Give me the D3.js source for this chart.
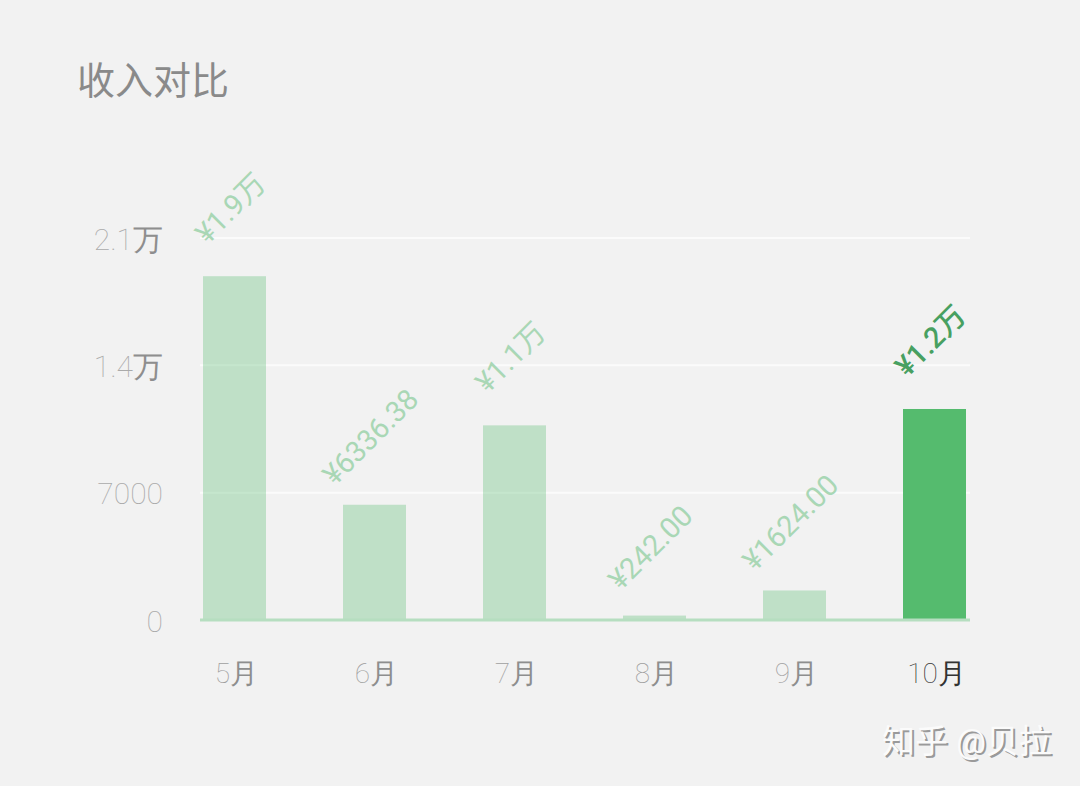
<!DOCTYPE html>
<html>
<head>
<meta charset="utf-8">
<script src="https://cdn.jsdelivr.net/npm/d3@7"></script>
<style>
  html, body { margin: 0; padding: 0; background: #f2f2f2; }
  svg { display: block; font-family: Roboto, "Noto Sans CJK SC", sans-serif; }
  .thin { font-family: "Roboto Thin", "Roboto Light", Roboto, "Noto Sans CJK SC", sans-serif; }
</style>
</head>
<body>
<div id="chart"></div>
<script>
// chart data
const months = ["5月", "6月", "7月", "8月", "9月", "10月"];
const income = [18900, 6336.38, 10700, 242, 1624, 11600];
const valueLabels = ["¥1.9万", "¥6336.38", "¥1.1万", "¥242.00", "¥1624.00", "¥1.2万"];
const yTicks = [0, 7000, 14000, 21000];
const yTickLabels = ["0", "7000", "1.4万", "2.1万"];
const current = "10月";

var width = 1080, height = 786;
var green = "#55bb6e";

var svg = d3.select("#chart")
    .append("svg")
    .attr("width", width)
    .attr("height", height);

svg.append("rect")
    .attr("width", width)
    .attr("height", height)
    .attr("fill", "#f2f2f2");

// title
svg.append("text")
    .attr("x", 77)
    .attr("y", 94)
    .style("font-size", "38px")
    .style("fill", "#8a8a8a")
    .text("收入对比");

// scales
var x = d3.scaleBand()
    .domain(months)
    .range([203, 966])
    .paddingInner(0.55)
    .paddingOuter(0);

var y = d3.scaleLinear()
    .domain([0, 21000])
    .range([620, 238]);

// split "2.1万" into digits (thin) and CJK (regular)
function splitLabel(sel, s, digitColor, cjkColor) {
    s.match(/[^万月]+|[万月]/g).forEach(function (part) {
        var cjk = /[万月]/.test(part);
        sel.append("tspan")
            .attr("class", cjk ? null : "thin")
            .style("font-weight", cjk ? 400 : 100)
            .style("fill", cjk ? cjkColor : digitColor)
            .text(part);
    });
}

// grid lines
svg.append("g")
    .selectAll("line")
    .data(yTicks.filter(d => d > 0))
    .enter()
    .append("line")
    .attr("x1", 200)
    .attr("x2", 970)
    .attr("y1", d => y(d))
    .attr("y2", d => y(d))
    .attr("stroke", "#fbfbfb")
    .attr("stroke-width", 2);

// Y axis
var yAxis = svg.append("g")
    .attr("transform", "translate(200,0)")
    .call(d3.axisLeft(y).tickValues(yTicks).tickSize(0).tickPadding(37).tickFormat(""));
yAxis.select(".domain").remove();
yAxis.selectAll(".tick text")
    .attr("dy", null)
    .attr("dominant-baseline", "central")
    .style("font-size", "30px")
    .each(function (d, i) {
        splitLabel(d3.select(this), yTickLabels[i], "#aaaaaa", "#8e8e8e");
    });

// bars
svg.append("g")
    .selectAll("rect")
    .data(months)
    .enter()
    .append("rect")
    .attr("x", d => x(d))
    .attr("y", (d, i) => y(income[i]))
    .attr("width", x.bandwidth())
    .attr("height", (d, i) => y(0) - y(income[i]))
    .attr("fill", green)
    .attr("fill-opacity", d => d == current ? 1 : 0.32);

// baseline
svg.append("line")
    .attr("x1", 200)
    .attr("x2", 970)
    .attr("y1", y(0))
    .attr("y2", y(0))
    .attr("stroke", "#b6dec0")
    .attr("stroke-width", 3);

// value labels, rotated 45 degrees above each bar
svg.append("g")
    .selectAll("text")
    .data(months)
    .enter()
    .append("text")
    .attr("transform", function (d, i) {
        var cx = x(d) + x.bandwidth() / 2 - 4;
        var cy = y(income[i]) - 68;
        return "translate(" + cx + "," + cy + ") rotate(-45)";
    })
    .attr("text-anchor", "middle")
    .attr("dominant-baseline", "central")
    .style("font-size", "29px")
    .style("font-weight", d => d == current ? 500 : 400)
    .style("fill", d => d == current ? "#48a061" : "#a9d7b5")
    .text((d, i) => valueLabels[i]);

// X axis
var xAxis = svg.append("g")
    .attr("transform", "translate(0," + y(0) + ")")
    .call(d3.axisBottom(x).tickSize(0).tickFormat(""));
xAxis.select(".domain").remove();
xAxis.selectAll(".tick text")
    .attr("y", 63)
    .attr("dy", null)
    .attr("x", 2)
    .style("font-size", "28px")
    .each(function (d) {
        var on = d == current;
        splitLabel(d3.select(this), d, on ? "#333" : "#a0a0a0", on ? "#333" : "#8e8e8e");
    });

// watermark
var mark = svg.append("g").style("font-size", "33px");
mark.append("text")
    .attr("x", 884).attr("y", 755)
    .style("fill", "#9a9a9a")
    .text("知乎 @贝拉");
mark.append("text")
    .attr("x", 882).attr("y", 753)
    .style("fill", "#fbfbfb")
    .text("知乎 @贝拉");
</script>
</body>
</html>
